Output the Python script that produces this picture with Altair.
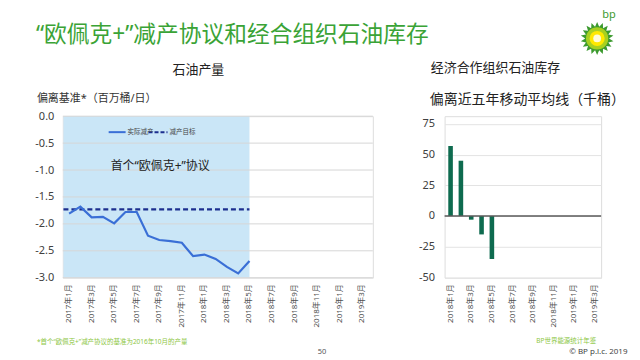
import altair as alt
import pandas as pd
import numpy as np

FONT = "'Noto Sans', 'Noto Sans CJK SC', sans-serif"

# ---------------- data ----------------
months_left = ["2017年1月", "2017年2月", "2017年3月", "2017年4月", "2017年5月", "2017年6月",
               "2017年7月", "2017年8月", "2017年9月", "2017年10月", "2017年11月", "2017年12月",
               "2018年1月", "2018年2月", "2018年3月", "2018年4月", "2018年5月", "2018年6月",
               "2018年7月", "2018年8月", "2018年9月", "2018年10月", "2018年11月", "2018年12月",
               "2019年1月", "2019年2月", "2019年3月"]
left_labels = ["2017年1月", "2017年3月", "2017年5月", "2017年7月", "2017年9月", "2017年11月",
               "2018年1月", "2018年3月", "2018年5月", "2018年7月", "2018年9月", "2018年11月",
               "2019年1月", "2019年3月"]
actual_cut = [-1.81, -1.68, -1.88, -1.87, -1.99, -1.78, -1.78, -2.22, -2.30, -2.32,
              -2.35, -2.60, -2.57, -2.65, -2.80, -2.92, -2.69]
actual_months = months_left[:17]
target_cut = -1.73
left_yticks = [0.0, -0.5, -1.0, -1.5, -2.0, -2.5, -3.0]

months_right = ["2018年1月", "2018年2月", "2018年3月", "2018年4月", "2018年5月", "2018年6月",
                "2018年7月", "2018年8月", "2018年9月", "2018年10月", "2018年11月", "2018年12月",
                "2019年1月", "2019年2月", "2019年3月"]
right_labels = ["2018年1月", "2018年3月", "2018年5月", "2018年7月", "2018年9月", "2018年11月",
                "2019年1月", "2019年3月"]
inv_months = ["2018年1月", "2018年2月", "2018年3月", "2018年4月", "2018年5月"]
inv_values = [57, 45, -3, -15, -35]
right_yticks = [-50, -25, 0, 25, 50, 75]

# ---------------- left panel ----------------
LW, LH = 311, 162
xs_left = alt.Scale(domain=months_left, type="band", paddingInner=0, paddingOuter=0.25, align=0.115)
xaxis_left = alt.Axis(values=left_labels, labelAngle=-90, labelFontSize=8, labelColor="#505050",
                      labelFont=FONT, ticks=False, domain=False, grid=False, labelPadding=6,
                      title=None)
ys_left = alt.Scale(domain=[-3, 0], nice=False, zero=False)
yaxis_left = alt.Axis(values=left_yticks, grid=False, ticks=False, domain=False,
                      labelFontSize=11, labelColor="#404040", labelFont=FONT, labelPadding=9,
                      title=None,
                      labelExpr="datum.value == 0 ? '0.0' : '-' + format(-datum.value, '.1f')")


def xl(field, **kw):
    return alt.X(field, type="ordinal", scale=xs_left, axis=xaxis_left, title=None, **kw)


def yl(field):
    return alt.Y(field, type="quantitative", scale=ys_left, axis=yaxis_left, title=None)


span_df = pd.DataFrame({"s": [actual_months[0]], "e": [actual_months[-1]], "lo": [-3.0], "hi": [0.0]})
shade = alt.Chart(span_df).mark_rect(color="#cae6f7").encode(
    x=xl("s", bandPosition=0), x2=alt.X2("e", bandPosition=0.5),
    y=yl("lo"), y2="hi")

grid_left = alt.Chart(pd.DataFrame({"v": left_yticks})).mark_rule(
    color="#d6d6d6", strokeWidth=1).encode(y=yl("v"), x=alt.value(0), x2=alt.value(LW))

tgt_df = pd.DataFrame({"s": [actual_months[0]], "e": [actual_months[-1]], "t": [target_cut]})
target = alt.Chart(tgt_df).mark_rule(color="#1c2f8f", strokeWidth=2.2, strokeDash=[5, 3]).encode(
    x=xl("s", bandPosition=0), x2=alt.X2("e", bandPosition=0.5), y=yl("t"))

line_df = pd.DataFrame({"month": actual_months, "v": actual_cut})
line = alt.Chart(line_df).mark_line(color="#3a6fd6", strokeWidth=2.2).encode(
    x=xl("month"), y=yl("v"))

# in-plot legend
leg_solid = alt.Chart(pd.DataFrame({"a": [0]})).mark_rule(color="#3a6fd6", strokeWidth=2).encode(
    x=alt.value(46), x2=alt.value(63), y=alt.value(16))
leg_dash = alt.Chart(pd.DataFrame({"a": [0]})).mark_rule(color="#1c2f8f", strokeWidth=2,
                                                         strokeDash=[4, 2]).encode(
    x=alt.value(86), x2=alt.value(105), y=alt.value(16))


def txt(s, x, y, size, color="#333333", align="left", weight="normal", baseline="middle"):
    return alt.Chart(pd.DataFrame({"t": [s]})).mark_text(
        font=FONT, fontSize=size, color=color, align=align, baseline=baseline,
        fontWeight=weight).encode(text="t:N", x=alt.value(x), y=alt.value(y))


leg_t1 = txt("实际减产", 65, 16, 6.5, "#444444")
leg_t2 = txt("减产目标", 107, 16, 6.5, "#444444")
annot = txt("首个“欧佩克+”协议", 48, 50, 12, "#222222")

GREEN = "#3aa336"
title = txt("“欧佩克+”减产协议和经合组织石油库存", -27, -81, 22.8, GREEN)
sub_l = txt("石油产量", 136, -46, 13, "#222222", align="center")
ylab_l = txt("偏离基准*（百万桶/日）", -26, -17, 11, "#333333")
sub_r = txt("经济合作组织石油库存", 434, -48, 13, "#222222", align="center")
ylab_r = txt("偏离近五年移动平均线（千桶）", 466, -16, 14, "#222222", align="center")
foot = txt("*首个“欧佩克+”减产协议的基准为2016年10月的产量", -26, 227, 6.5, "#8cc63f")
page = txt("50", 260, 237, 7.5, "#555555", align="center")
src = txt("BP世界能源统计年鉴", 475, 226, 6.5, "#8cc63f")
copy = txt("© BP p.l.c. 2019", 508, 237, 8, "#444444")

# bp logo
ang = np.linspace(0, 2 * np.pi, 37)[:-1]
rad = np.where(np.arange(36) % 2 == 0, 1.0, 0.72)
star_path = "M" + " L".join(f"{r * np.sin(a):.3f},{-r * np.cos(a):.3f}" for r, a in zip(rad, ang)) + " Z"
logo_df = pd.DataFrame({"a": [0]})
logo_star = alt.Chart(logo_df).mark_point(shape=star_path, filled=True, color="#3c9a2e",
                                          size=1100, opacity=1).encode(x=alt.value(536), y=alt.value(-78))
logo_c1 = alt.Chart(logo_df).mark_point(shape="circle", filled=True, color="#a8d020",
                                        size=500, opacity=1).encode(x=alt.value(536), y=alt.value(-78))
logo_c2 = alt.Chart(logo_df).mark_point(shape="circle", filled=True, color="#ffe800",
                                        size=230, opacity=1).encode(x=alt.value(536), y=alt.value(-78))
logo_c3 = alt.Chart(logo_df).mark_point(shape="circle", filled=True, color="#fffbd6",
                                        size=60, opacity=1).encode(x=alt.value(536), y=alt.value(-78))
logo_bp = txt("bp", 548, -102, 11, "#3c9a2e", align="center")

# invisible frame so that the whole canvas is exactly 640x360
frame = alt.Chart(pd.DataFrame({"a": [0]})).mark_rect(opacity=0).encode(
    x=alt.value(-62), x2=alt.value(578), y=alt.value(-115), y2=alt.value(245))

left = alt.layer(frame, shade, grid_left, target, line, leg_solid, leg_dash, leg_t1, leg_t2, annot,
                 title, sub_l, ylab_l, sub_r, ylab_r, foot, page, src, copy,
                 logo_star, logo_c1, logo_c2, logo_c3, logo_bp).properties(width=LW, height=LH)

# ---------------- right panel ----------------
RW, RH = 157, 162
xs_right = alt.Scale(domain=months_right, type="band", paddingInner=0.556, paddingOuter=0.355)
xaxis_right = alt.Axis(values=right_labels, labelAngle=-90, labelFontSize=8, labelColor="#505050",
                       labelFont=FONT, ticks=False, domain=False, grid=False, labelPadding=6,
                       title=None)
ys_right = alt.Scale(domain=[-50.24, 81.25], nice=False, zero=False)
yaxis_right = alt.Axis(values=right_yticks, grid=True, gridColor="#e3e3e3", ticks=False,
                       domain=False, labelFontSize=11, labelColor="#404040", labelFont=FONT,
                       labelPadding=10, title=None,
                       labelExpr="datum.value < 0 ? '-' + format(-datum.value, 'd') : format(datum.value, 'd')")

inv_df = pd.DataFrame({"month": inv_months, "v": inv_values})
bars = alt.Chart(inv_df).mark_bar(color="#0e6b4f").encode(
    x=alt.X("month:O", scale=xs_right, axis=xaxis_right, title=None),
    y=alt.Y("v:Q", scale=ys_right, axis=yaxis_right, title=None))
zero = alt.Chart(pd.DataFrame({"z": [0]})).mark_rule(color="#5a5a5a", strokeWidth=1.3).encode(
    y=alt.Y("z:Q", scale=ys_right, axis=yaxis_right, title=None), x=alt.value(0), x2=alt.value(RW))

right = alt.layer(bars, zero).properties(width=RW, height=RH)

chart = alt.hconcat(left, right, spacing=72, bounds="flush").properties(
    padding=0
).configure_view(strokeWidth=0).configure(font=FONT)

chart.save("out.html", embed_options={"renderer": "svg", "actions": False})
